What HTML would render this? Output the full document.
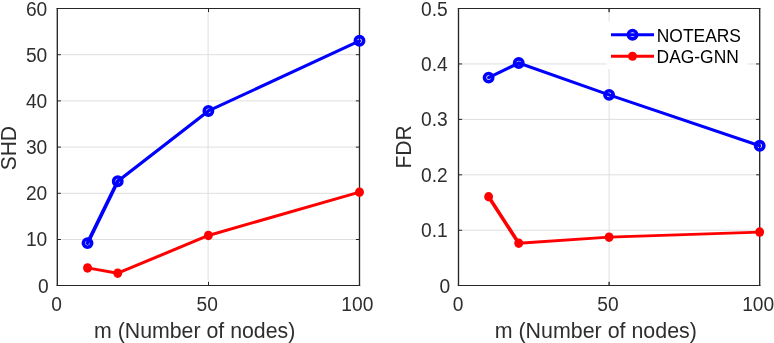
<!DOCTYPE html>
<html><head><meta charset="utf-8"><title>SHD and FDR vs number of nodes</title>
<style>
html,body{margin:0;padding:0;background:#fff;}
body{width:774px;height:343px;overflow:hidden;}
svg{display:block;}
svg text{font-family:"Liberation Sans",Arial,Helvetica,sans-serif;fill:#2e2e2e;}
</style></head><body>
<svg width="774" height="343" viewBox="0 0 774 343">
<rect x="0" y="0" width="774" height="343" fill="#ffffff"/>
<line x1="208.10" y1="13.10" x2="208.10" y2="280.85" stroke="#dfdfdf" stroke-width="1"/>
<line x1="57.30" y1="239.50" x2="359.50" y2="239.50" stroke="#dfdfdf" stroke-width="1"/>
<line x1="57.30" y1="193.30" x2="359.50" y2="193.30" stroke="#dfdfdf" stroke-width="1"/>
<line x1="57.30" y1="147.10" x2="359.50" y2="147.10" stroke="#dfdfdf" stroke-width="1"/>
<line x1="57.30" y1="100.90" x2="359.50" y2="100.90" stroke="#dfdfdf" stroke-width="1"/>
<line x1="57.30" y1="54.70" x2="359.50" y2="54.70" stroke="#dfdfdf" stroke-width="1"/>
<path d="M57.30 7.90V286.10M359.50 7.90V286.10" fill="none" stroke="#262626" stroke-width="1.35"/>
<path d="M56.63 8.50H360.17M56.63 285.50H360.17" fill="none" stroke="#262626" stroke-width="1.2"/>
<line x1="208.50" y1="285.35" x2="208.50" y2="281.75" stroke="#262626" stroke-width="1.0"/>
<line x1="208.50" y1="8.60" x2="208.50" y2="12.20" stroke="#262626" stroke-width="1.0"/>
<line x1="57.30" y1="239.50" x2="60.90" y2="239.50" stroke="#262626" stroke-width="1"/>
<line x1="359.50" y1="239.50" x2="355.90" y2="239.50" stroke="#262626" stroke-width="1"/>
<line x1="57.30" y1="193.30" x2="60.90" y2="193.30" stroke="#262626" stroke-width="1"/>
<line x1="359.50" y1="193.30" x2="355.90" y2="193.30" stroke="#262626" stroke-width="1"/>
<line x1="57.30" y1="147.10" x2="60.90" y2="147.10" stroke="#262626" stroke-width="1"/>
<line x1="359.50" y1="147.10" x2="355.90" y2="147.10" stroke="#262626" stroke-width="1"/>
<line x1="57.30" y1="100.90" x2="60.90" y2="100.90" stroke="#262626" stroke-width="1"/>
<line x1="359.50" y1="100.90" x2="355.90" y2="100.90" stroke="#262626" stroke-width="1"/>
<line x1="57.30" y1="54.70" x2="60.90" y2="54.70" stroke="#262626" stroke-width="1"/>
<line x1="359.50" y1="54.70" x2="355.90" y2="54.70" stroke="#262626" stroke-width="1"/>
<line x1="87.52" y1="243.10" x2="117.74" y2="181.20" stroke="#0000ff" stroke-width="3.67" stroke-linecap="round"/>
<line x1="117.74" y1="181.20" x2="208.40" y2="110.95" stroke="#0000ff" stroke-width="3.26" stroke-linecap="round"/>
<line x1="208.40" y1="110.95" x2="359.50" y2="40.80" stroke="#0000ff" stroke-width="3.07" stroke-linecap="round"/>
<circle cx="87.52" cy="243.10" r="4.15" fill="none" stroke="#0000ff" stroke-width="3.6"/>
<circle cx="117.74" cy="181.20" r="4.15" fill="none" stroke="#0000ff" stroke-width="3.6"/>
<circle cx="208.40" cy="110.95" r="4.15" fill="none" stroke="#0000ff" stroke-width="3.6"/>
<circle cx="359.50" cy="40.80" r="4.15" fill="none" stroke="#0000ff" stroke-width="3.6"/>
<line x1="87.52" y1="267.90" x2="117.74" y2="273.20" stroke="#ff0000" stroke-width="2.93" stroke-linecap="round"/>
<line x1="117.74" y1="273.20" x2="208.40" y2="235.45" stroke="#ff0000" stroke-width="3.04" stroke-linecap="round"/>
<line x1="208.40" y1="235.45" x2="359.50" y2="192.15" stroke="#ff0000" stroke-width="2.97" stroke-linecap="round"/>
<ellipse cx="87.52" cy="267.90" rx="4.45" ry="4.75" fill="#ff0000"/>
<ellipse cx="117.74" cy="273.20" rx="4.45" ry="4.75" fill="#ff0000"/>
<ellipse cx="208.40" cy="235.45" rx="4.45" ry="4.75" fill="#ff0000"/>
<ellipse cx="359.50" cy="192.15" rx="4.45" ry="4.75" fill="#ff0000"/>
<text transform="translate(56.50,311.20) scale(1,1.04)" font-size="19.2" text-anchor="middle">0</text>
<text transform="translate(207.15,311.20) scale(1,1.04)" font-size="19.2" text-anchor="middle">50</text>
<text transform="translate(357.30,311.20) scale(1,1.04)" font-size="19.2" text-anchor="middle">100</text>
<text transform="translate(48.60,292.50) scale(1,1.04)" font-size="19.2" text-anchor="end">0</text>
<text transform="translate(47.30,246.37) scale(1,1.04)" font-size="19.2" text-anchor="end">10</text>
<text transform="translate(47.30,200.23) scale(1,1.04)" font-size="19.2" text-anchor="end">20</text>
<text transform="translate(47.30,154.10) scale(1,1.04)" font-size="19.2" text-anchor="end">30</text>
<text transform="translate(47.30,107.97) scale(1,1.04)" font-size="19.2" text-anchor="end">40</text>
<text transform="translate(47.30,61.83) scale(1,1.04)" font-size="19.2" text-anchor="end">50</text>
<text transform="translate(47.30,15.70) scale(1,1.04)" font-size="19.2" text-anchor="end">60</text>
<text transform="translate(194.65,338.00) scale(1,1.04)" font-size="21.3" text-anchor="middle">m (Number of nodes)</text>
<text transform="translate(16.30,148.18) rotate(-90) scale(1,1.04)" font-size="21.0" text-anchor="middle">SHD</text>
<line x1="609.10" y1="13.10" x2="609.10" y2="280.85" stroke="#dfdfdf" stroke-width="1"/>
<line x1="458.50" y1="230.26" x2="759.70" y2="230.26" stroke="#dfdfdf" stroke-width="1"/>
<line x1="458.50" y1="174.82" x2="759.70" y2="174.82" stroke="#dfdfdf" stroke-width="1"/>
<line x1="458.50" y1="119.38" x2="759.70" y2="119.38" stroke="#dfdfdf" stroke-width="1"/>
<line x1="458.50" y1="63.94" x2="759.70" y2="63.94" stroke="#dfdfdf" stroke-width="1"/>
<path d="M458.50 7.90V286.10M759.70 7.90V286.10" fill="none" stroke="#262626" stroke-width="1.35"/>
<path d="M457.83 8.50H760.37M457.83 285.50H760.37" fill="none" stroke="#262626" stroke-width="1.2"/>
<line x1="609.10" y1="285.35" x2="609.10" y2="281.75" stroke="#262626" stroke-width="1.4"/>
<line x1="609.10" y1="8.60" x2="609.10" y2="12.20" stroke="#262626" stroke-width="1.4"/>
<line x1="458.50" y1="230.26" x2="462.10" y2="230.26" stroke="#262626" stroke-width="1"/>
<line x1="759.70" y1="230.26" x2="756.10" y2="230.26" stroke="#262626" stroke-width="1"/>
<line x1="458.50" y1="174.82" x2="462.10" y2="174.82" stroke="#262626" stroke-width="1"/>
<line x1="759.70" y1="174.82" x2="756.10" y2="174.82" stroke="#262626" stroke-width="1"/>
<line x1="458.50" y1="119.38" x2="462.10" y2="119.38" stroke="#262626" stroke-width="1"/>
<line x1="759.70" y1="119.38" x2="756.10" y2="119.38" stroke="#262626" stroke-width="1"/>
<line x1="458.50" y1="63.94" x2="462.10" y2="63.94" stroke="#262626" stroke-width="1"/>
<line x1="759.70" y1="63.94" x2="756.10" y2="63.94" stroke="#262626" stroke-width="1"/>
<line x1="488.62" y1="77.60" x2="518.74" y2="63.00" stroke="#0000ff" stroke-width="3.08" stroke-linecap="round"/>
<line x1="518.74" y1="63.00" x2="609.10" y2="94.90" stroke="#0000ff" stroke-width="3.01" stroke-linecap="round"/>
<line x1="609.10" y1="94.90" x2="759.70" y2="145.75" stroke="#0000ff" stroke-width="3.00" stroke-linecap="round"/>
<circle cx="488.62" cy="77.60" r="4.15" fill="none" stroke="#0000ff" stroke-width="3.6"/>
<circle cx="518.74" cy="63.00" r="4.15" fill="none" stroke="#0000ff" stroke-width="3.6"/>
<circle cx="609.10" cy="94.90" r="4.15" fill="none" stroke="#0000ff" stroke-width="3.6"/>
<circle cx="759.70" cy="145.75" r="4.15" fill="none" stroke="#0000ff" stroke-width="3.6"/>
<line x1="488.62" y1="196.75" x2="518.74" y2="243.20" stroke="#ff0000" stroke-width="3.57" stroke-linecap="round"/>
<line x1="518.74" y1="243.20" x2="609.10" y2="237.15" stroke="#ff0000" stroke-width="2.90" stroke-linecap="round"/>
<line x1="609.10" y1="237.15" x2="759.70" y2="232.10" stroke="#ff0000" stroke-width="2.90" stroke-linecap="round"/>
<ellipse cx="488.62" cy="196.75" rx="4.45" ry="4.75" fill="#ff0000"/>
<ellipse cx="518.74" cy="243.20" rx="4.45" ry="4.75" fill="#ff0000"/>
<ellipse cx="609.10" cy="237.15" rx="4.45" ry="4.75" fill="#ff0000"/>
<ellipse cx="759.70" cy="232.10" rx="4.45" ry="4.75" fill="#ff0000"/>
<text transform="translate(458.20,311.20) scale(1,1.04)" font-size="19.2" text-anchor="middle">0</text>
<text transform="translate(608.00,311.20) scale(1,1.04)" font-size="19.2" text-anchor="middle">50</text>
<text transform="translate(758.20,311.20) scale(1,1.04)" font-size="19.2" text-anchor="middle">100</text>
<text transform="translate(450.10,292.50) scale(1,1.04)" font-size="19.2" text-anchor="end">0</text>
<text transform="translate(447.70,237.14) scale(1,1.04)" font-size="19.2" text-anchor="end">0.1</text>
<text transform="translate(447.70,181.78) scale(1,1.04)" font-size="19.2" text-anchor="end">0.2</text>
<text transform="translate(447.70,126.42) scale(1,1.04)" font-size="19.2" text-anchor="end">0.3</text>
<text transform="translate(447.70,71.06) scale(1,1.04)" font-size="19.2" text-anchor="end">0.4</text>
<text transform="translate(447.70,15.70) scale(1,1.04)" font-size="19.2" text-anchor="end">0.5</text>
<text transform="translate(595.80,338.00) scale(1,1.04)" font-size="21.4" text-anchor="middle">m (Number of nodes)</text>
<text transform="translate(411.30,146.98) rotate(-90) scale(1,1.04)" font-size="21.0" text-anchor="middle">FDR</text>
<rect x="607" y="21.5" width="140.5" height="47.5" fill="#ffffff"/>
<line x1="611" y1="34.7" x2="654" y2="34.7" stroke="#0000ff" stroke-width="3.1"/>
<circle cx="632.5" cy="34.7" r="4.15" fill="none" stroke="#0000ff" stroke-width="3.6"/>
<line x1="611" y1="56.2" x2="654" y2="56.2" stroke="#ff0000" stroke-width="3.1"/>
<circle cx="632.5" cy="56.2" r="4.5" fill="#ff0000"/>
<text transform="translate(656.80,41.50) scale(1,1.04)" font-size="17.4" text-anchor="start" style="fill:#000">NOTEARS</text>
<text transform="translate(656.60,62.80) scale(1,1.04)" font-size="17.4" text-anchor="start" style="fill:#000">DAG-GNN</text>
</svg>
</body></html>
